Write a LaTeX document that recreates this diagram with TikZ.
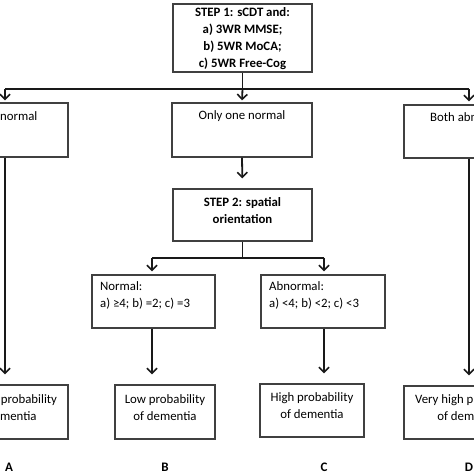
\documentclass[tikz,border=0pt]{standalone}
\usepackage{fontspec}
\setmainfont{Carlito}
\usetikzlibrary{arrows.meta}
\begin{document}
\begin{tikzpicture}[x=1pt,y=-1pt,
  box/.style={draw=black!75,line width=1.3pt,inner sep=0pt,minimum width=#1},
  conn/.style={draw=black!90,line width=1.8pt},
  arr/.style={conn,-{Straight Barb[length=5pt,width=10pt,line width=1.6pt]}},
  txt/.style={font=\fontsize{12.8}{17}\selectfont,align=center,inner sep=0pt},
  btxt/.style={font=\fontsize{12.8}{17}\selectfont\bfseries,align=center,inner sep=0pt},
  lbl/.style={font=\fontsize{13}{15}\selectfont\bfseries,inner sep=0pt}]
\useasboundingbox (0,0) rectangle (474,474);
\clip (0,0) rectangle (474,474);
% boxes
\node[box=139pt,minimum height=68pt] (s1) at (242.5,38) {};
\node[btxt,anchor=center] at (242.5,39) {STEP 1: sCDT and:\\a) 3WR MMSE;\\b) 5WR MoCA;\\c) 5WR Free-Cog};
\node[box=126pt,minimum height=54pt] (lb) at (5,130) {};
\node[txt] at (5,116) {Both normal};
\node[box=140pt,minimum height=54pt] (mb) at (242,130) {};
\node[txt] at (242,116) {Only one normal};
\node[box=130pt,minimum height=53pt] (rb) at (469,131.5) {};
\node[txt] at (469,117) {Both abnormal};
\node[box=139pt,minimum height=52pt] (s2) at (242.5,215) {};
\node[btxt] at (242.5,211) {STEP 2: spatial\\orientation};
\node[box=123pt,minimum height=53pt] (nb) at (153.5,301.5) {};
\node[txt,align=left,anchor=north west] at (100,281) {Normal:\\a) ≥4; b) =2; c) =3};
\node[box=124pt,minimum height=53pt] (ab) at (323,301.5) {};
\node[txt,align=left,anchor=north west] at (269,281) {Abnormal:\\a) <4; b) <2; c) <3};
\node[box=126pt,minimum height=54pt] (rA) at (5,412) {};
\node[txt] at (5,408) {Very low probability\\of dementia};
\node[box=100pt,minimum height=54pt] (rB) at (165,412) {};
\node[txt] at (165,408) {Low probability\\of dementia};
\node[box=104pt,minimum height=53pt] (rC) at (312,410.5) {};
\node[txt] at (312,406) {High probability\\of dementia};
\node[box=130pt,minimum height=53pt] (rD) at (469,412.5) {};
\node[txt] at (469,408) {Very high probability\\of dementia};
% labels
\node[lbl] (lA) at (9,467) {A};
\node[lbl] (lB) at (165,467) {B};
\node[lbl] (lC) at (324,467) {C};
\node[lbl] (lD) at (469,467) {D};
% connectors
\draw[conn] (s1.south) -- ++(0,16) coordinate (j1);
\draw[conn] (lb.north |- j1) -- (rb.north |- j1);
\draw[arr,shorten >=2pt] (lb.north |- j1) -- (lb.north);
\draw[arr,shorten >=2pt] (j1) -- (mb.north);
\draw[arr,shorten >=3pt] (rb.north |- j1) -- (rb.north);
\draw[arr,shorten >=10pt] (mb.south) -- (s2.north);
\draw[conn] (s2.south) -- ++(0,16) coordinate (j2);
\coordinate (nx) at (152,0);
\coordinate (ax) at (324,0);
\draw[conn] (nx |- j2) -- (ax |- j2);
\draw[arr,shorten >=3pt] (nx |- j2) -- (nx |- nb.north);
\draw[arr,shorten >=3pt] (ax |- j2) -- (ax |- ab.north);
\draw[arr,shorten >=10pt] (nx |- nb.south) -- (nx |- rB.north);
\draw[arr,shorten >=10pt] (ax |- ab.south) -- (ax |- rC.north);
\draw[arr,shorten >=10pt] (lb.south) -- (rA.north);
\draw[arr,shorten >=10pt] (rb.south) -- (rD.north);
\end{tikzpicture}
\end{document}
